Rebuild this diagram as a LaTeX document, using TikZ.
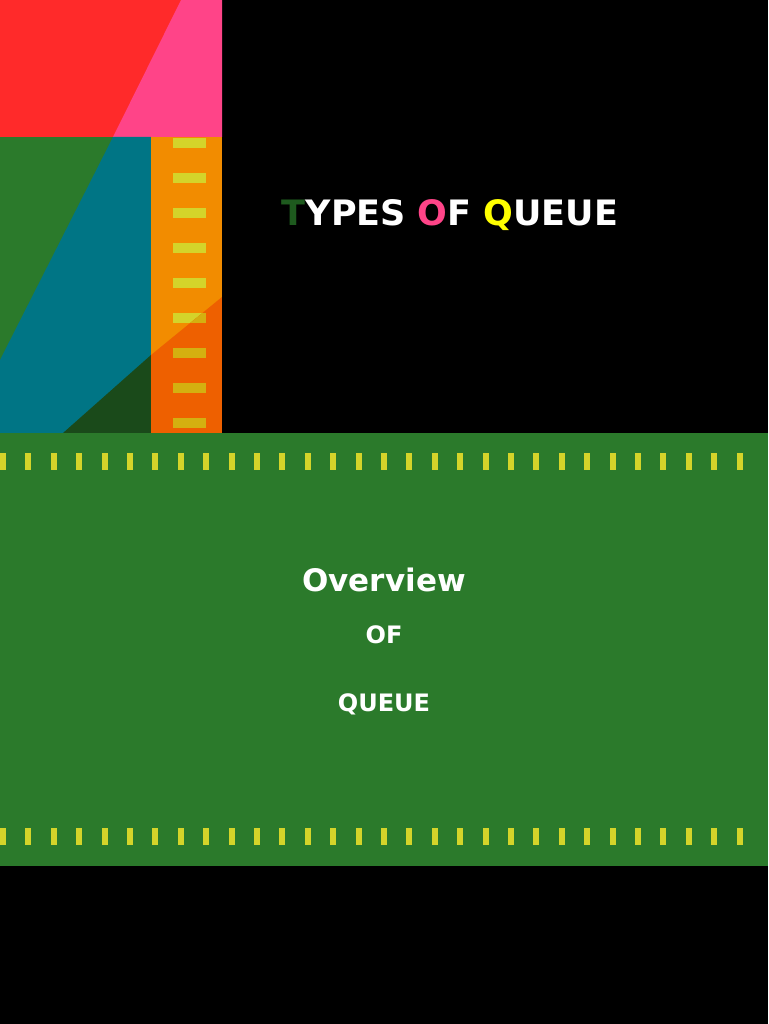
\documentclass[tikz,border=0pt]{standalone}
\usepackage{fontspec}
\setmainfont{DejaVu Sans}
\definecolor{cred}{HTML}{FF2A2A}
\definecolor{cpink}{HTML}{FF4488}
\definecolor{cgreen}{HTML}{2B7A2B}
\definecolor{cteal}{HTML}{007585}
\definecolor{corange}{HTML}{F28C00}
\definecolor{cdorange}{HTML}{EE6000}
\definecolor{cdgreen}{HTML}{1A4A1A}
\definecolor{cdash}{HTML}{D4D42A}
\definecolor{cdash2}{HTML}{D4B010}
\definecolor{ctgreen}{HTML}{1E5A1E}
\definecolor{cyel}{HTML}{FFFF00}
\tikzset{title/.style={text=white,font=\bfseries}}
\begin{document}
\begin{tikzpicture}[x=1pt,y=-1pt]
\fill[black] (0,0) rectangle (768,1024);
\useasboundingbox (0,0) rectangle (768,1024);
\fill[cred] (0,0) rectangle (222,137);
\fill[cpink] (181,0) -- (222,0) -- (222,137) -- (113,137) -- cycle;
\fill[cgreen] (0,137) rectangle (151,433);
\fill[cteal] (113,137) -- (151,137) -- (151,433) -- (0,433) -- (0,360) -- cycle;
\fill[corange] (151,137) rectangle (222,433);
\foreach \i in {0,...,8} \fill[cdash] (173,138+35*\i) rectangle (206,148+35*\i);
\fill[cdgreen] (151,355) -- (151,433) -- (63,433) -- cycle;
\begin{scope}
\clip (222,297) -- (222,433) -- (151,433) -- (151,355) -- cycle;
\fill[cdorange] (151,290) rectangle (222,433);
\foreach \i in {0,...,8} \fill[cdash2] (173,138+35*\i) rectangle (206,148+35*\i);
\end{scope}
\fill[cgreen] (0,433) rectangle (768,866);
\foreach \i in {0,...,29} {
  \fill[cdash] (\i*25.4,453) rectangle (\i*25.4+6,470);
  \fill[cdash] (\i*25.4,828) rectangle (\i*25.4+6,845);
}
\node[title,font=\bfseries\fontsize{35}{40}\selectfont] (t) at (450,215) {\textcolor{ctgreen}{T}YPES \textcolor{cpink}{O}F \textcolor{cyel}{Q}UEUE};
\node[title,font=\bfseries\fontsize{31}{36}\selectfont] (ov) at (384,580) {Overview};
\node[title,font=\bfseries\fontsize{24}{28}\selectfont] (of) at (384,635) {OF};
\node[title,font=\bfseries\fontsize{24}{28}\selectfont] (q) at (384,704) {QUEUE};
\end{tikzpicture}
\end{document}
